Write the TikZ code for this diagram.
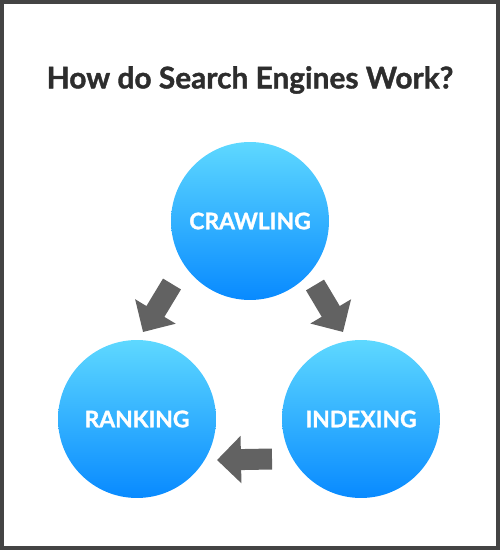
\documentclass[tikz,border=0pt]{standalone}
\usepackage{fontspec}
\setmainfont{Lato}
\newfontfamily\heavyfont{Lato Bold}[FakeBold=1.3]
\usetikzlibrary{arrows.meta}
\definecolor{SEFrame}{RGB}{68,68,68}
\definecolor{SEText}{RGB}{45,45,45}
\definecolor{SETop}{RGB}{94,216,255}
\definecolor{SEBottom}{RGB}{8,138,255}
\definecolor{SEArrow}{RGB}{98,98,98}

\begin{document}
\begin{tikzpicture}[x=0.02cm, y=-0.02cm,
      stage/.style={circle, minimum size=3.16cm, inner sep=0pt,
                    top color=SETop, bottom color=SEBottom, text=white,
                    font=\fontsize{13}{15}\selectfont\heavyfont},
      blk/.style={draw=SEArrow, line width=0.42cm,
                  -{Triangle[length=0.48cm, width=0.92cm]}}
    ]
    \useasboundingbox (0,0) rectangle (500,550);
    \draw[SEFrame, line width=0.08cm] (2,2) rectangle (498,548);

    \node[font=\fontsize{17}{20}\selectfont\heavyfont, text=SEText] (title) at (250,80)
          {How do Search Engines Work?};

    \node[stage] (crawl) at (250,221) {CRAWLING};
    \node[stage] (rank)  at (137,419) {RANKING};
    \node[stage] (index) at (361,419) {INDEXING};

    \coordinate (crawlout1) at (172,284);
    \coordinate (rankin)    at (143,332);
    \coordinate (crawlout2) at (315,285);
    \coordinate (indexin)   at (343,332);
    \coordinate (indexout)  at (272,459);
    \coordinate (rankin2)   at (217,460);

    \draw[blk] (crawlout1) -- (rankin);
    \draw[blk] (crawlout2) -- (indexin);
    \draw[blk] (indexout)  -- (rankin2);
  \end{tikzpicture}
\end{document}
